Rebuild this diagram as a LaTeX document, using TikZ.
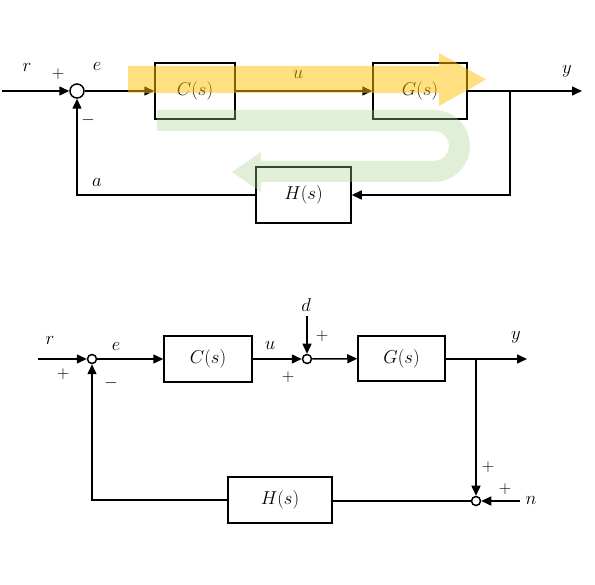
\documentclass[tikz,border=0pt]{standalone}
\usetikzlibrary{arrows.meta}
\definecolor{hlyellow}{HTML}{FFC000}
\definecolor{hlgreen}{HTML}{A9D18E}
\newcommand{\lbsz}[1]{\scalebox{1.08}{#1}}
\begin{document}
\begin{tikzpicture}[x=1pt,y=-1pt,
  line width=1.5pt,
  arr/.style={-{Triangle[length=10pt,width=9pt]}},
  blk/.style={draw,rectangle,inner sep=0pt,font=\LARGE},
  sumbig/.style={draw,circle,fill=white,minimum size=14pt,inner sep=0pt},
  sumsmall/.style={draw,circle,fill=white,minimum size=9pt,inner sep=0pt},
  lbl/.style={inner sep=0pt,font=\LARGE}]
\useasboundingbox (0,0) rectangle (595,585);
% ---------- top diagram ----------
\node[sumbig] (s1) at (77,91) {};
\node[blk,minimum width=80pt,minimum height=56pt] (C) at (195,91) {\lbsz{$C(s)$}};
\node[blk,minimum width=94pt,minimum height=56pt] (G) at (420,91) {\lbsz{$G(s)$}};
\node[blk,minimum width=95pt,minimum height=56pt] (H) at (303.5,195) {\lbsz{$H(s)$}};
\coordinate (in1) at (2,91);
\coordinate (out1) at (582,91);
\coordinate (br1) at (510,91);
\draw[arr] (in1) -- (s1);
\draw[arr] (s1) -- (C);
\draw[arr] (C) -- (G);
\draw[arr] (G) -- (out1);
\draw[arr] (br1) |- (H);
\draw[arr] (H) -| (s1);
\node[lbl] (lr1) at (27,67) {\lbsz{$r$}};
\node[lbl] (lp1) at (58,74) {$+$};
\node[lbl] (le1) at (97,66) {\lbsz{$e$}};
\node[lbl] (lu1) at (298,74) {\lbsz{$u$}};
\node[lbl] (ly1) at (567,71) {\lbsz{$y$}};
\node[lbl] (lm1) at (88,120) {$-$};
\node[lbl] (la1) at (97,182) {\lbsz{$a$}};
% highlight arrows
\fill[hlyellow,opacity=0.5] (128,66) -- (439,66) -- (439,53) -- (486,79.5) -- (439,106) -- (439,93) -- (128,93) -- cycle;
\begin{scope}[transparency group,opacity=0.35]
\draw[hlgreen,line width=21pt] (157,120.5) -- (434,120.5) arc[start angle=-90,end angle=90,radius=25.5] -- (261,171.5);
\fill[hlgreen] (261,152) -- (232,172) -- (261,192) -- cycle;
\end{scope}
% ---------- bottom diagram ----------
\node[sumsmall] (s2) at (92,359) {};
\node[blk,minimum width=88pt,minimum height=46pt] (C2) at (208,359) {\lbsz{$C(s)$}};
\node[sumsmall] (s3) at (307,359) {};
\node[blk,minimum width=87pt,minimum height=45pt] (G2) at (401.5,358.5) {\lbsz{$G(s)$}};
\node[sumsmall] (s4) at (476,501) {};
\node[blk,minimum width=104pt,minimum height=46pt] (H2) at (280,500) {\lbsz{$H(s)$}};
\coordinate (in2) at (38,359);
\coordinate (din) at (307,316);
\coordinate (out2) at (527,359);
\coordinate (br2) at (476,359);
\coordinate (nin) at (520,501);
\draw[arr] (in2) -- (s2);
\draw[arr] (s2) -- (C2);
\draw[arr] (C2) -- (s3);
\draw[arr] (din) -- (s3);
\draw[arr] (s3) -- (G2);
\draw[arr] (G2.east |- s3) -- (out2);
\draw[arr] (br2) -- (s4);
\draw[arr] (nin) -- (s4);
\draw (s4) -- (H2.east |- s4);
\draw[arr] (H2) -| (s2);
\node[lbl] (lr2) at (50,340) {\lbsz{$r$}};
\node[lbl] (lp2) at (63,374) {$+$};
\node[lbl] (le2) at (116,346) {\lbsz{$e$}};
\node[lbl] (lm2) at (111,383) {$-$};
\node[lbl] (lu2) at (270,345) {\lbsz{$u$}};
\node[lbl] (lp3) at (288,377) {$+$};
\node[lbl] (ld2) at (306,305) {\lbsz{$d$}};
\node[lbl] (lp4) at (322,336) {$+$};
\node[lbl] (ly2) at (516,337) {\lbsz{$y$}};
\node[lbl] (lp5) at (488,467) {$+$};
\node[lbl] (lp6) at (505,489) {$+$};
\node[lbl] (ln2) at (531,500) {\lbsz{$n$}};
\end{tikzpicture}
\end{document}
